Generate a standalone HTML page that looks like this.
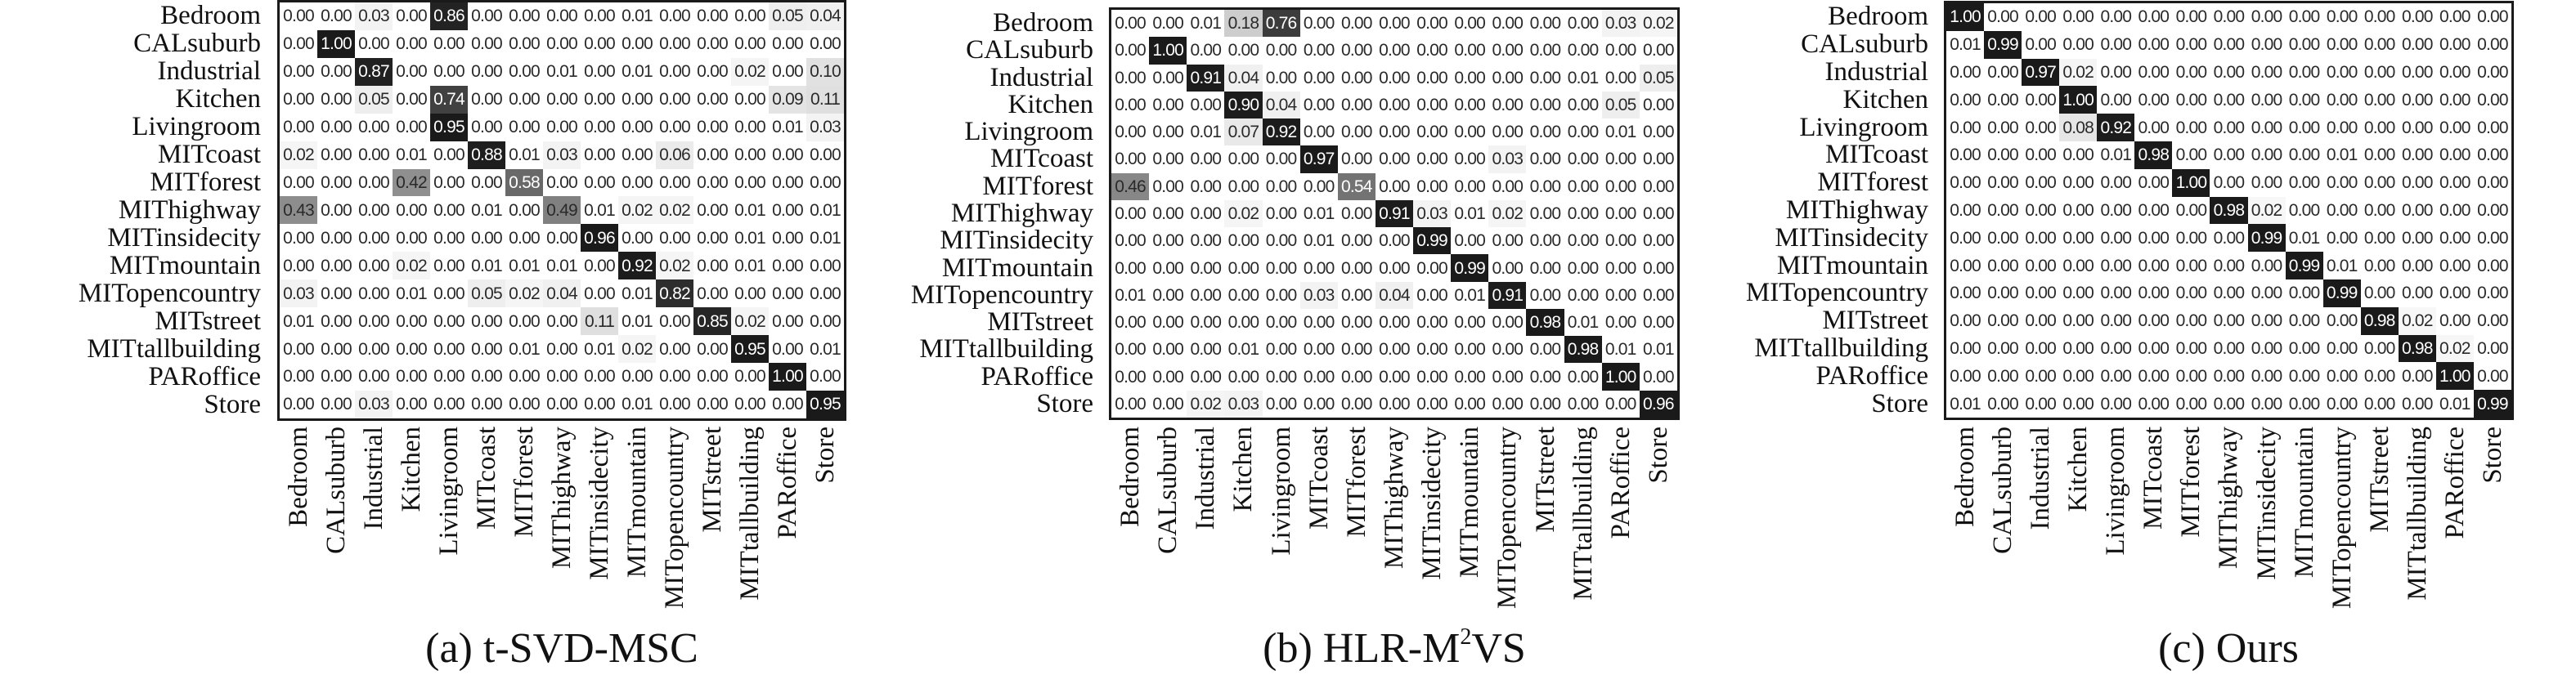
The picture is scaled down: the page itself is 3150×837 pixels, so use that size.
<!DOCTYPE html>
<html><head><meta charset="utf-8">
<style>
html,body{margin:0;padding:0;background:#fff;}
body{width:3150px;height:837px;position:relative;overflow:hidden;}
.m{position:absolute;box-sizing:border-box;border:3px solid #1a1a1a;}
.m table{width:100%;height:100%;border-collapse:collapse;table-layout:fixed;}
.m td{padding:0;text-align:center;vertical-align:middle;font-family:"Liberation Sans",sans-serif;font-size:21px;line-height:1;letter-spacing:-0.8px;color:#2a2a2a;white-space:nowrap;overflow:hidden;}
.m td.w{color:#fff;}
.yl{position:absolute;display:flex;flex-direction:column;font-family:"Liberation Serif",serif;font-size:33px;line-height:1;color:#111;}
.yl div{flex:1 1 0;min-height:0;display:flex;align-items:center;justify-content:flex-end;white-space:nowrap;}
.xl{position:absolute;display:flex;font-family:"Liberation Serif",serif;font-size:33px;color:#111;height:300px;}
.xl div{flex:1;display:flex;justify-content:center;align-items:flex-start;}
.xl span{writing-mode:vertical-rl;transform:rotate(180deg);line-height:34px;white-space:nowrap;}
.cap{position:absolute;top:768px;width:600px;text-align:center;font-family:"Liberation Serif",serif;font-size:52px;line-height:52px;color:#111;}
.cap sup{font-size:28px;line-height:0;position:relative;top:-4px;vertical-align:super;}
</style></head><body>

<!-- ===== (a) ===== -->
<div class="yl" style="left:0;top:3px;width:319px;height:509px;"><div>Bedroom</div><div>CALsuburb</div><div>Industrial</div><div>Kitchen</div><div>Livingroom</div><div>MITcoast</div><div>MITforest</div><div>MIThighway</div><div>MITinsidecity</div><div>MITmountain</div><div>MITopencountry</div><div>MITstreet</div><div>MITtallbuilding</div><div>PARoffice</div><div>Store</div></div>
<div class="m" style="left:339px;top:0;width:696px;height:515px;"><table>
<tr><td>0.00</td><td>0.00</td><td style="background:#f3f3f3">0.03</td><td>0.00</td><td class="w" style="background:#232323">0.86</td><td>0.00</td><td>0.00</td><td>0.00</td><td>0.00</td><td>0.01</td><td>0.00</td><td>0.00</td><td>0.00</td><td style="background:#eeeeee">0.05</td><td style="background:#f0f0f0">0.04</td></tr>
<tr><td>0.00</td><td class="w" style="background:#1a1a1a">1.00</td><td>0.00</td><td>0.00</td><td>0.00</td><td>0.00</td><td>0.00</td><td>0.00</td><td>0.00</td><td>0.00</td><td>0.00</td><td>0.00</td><td>0.00</td><td>0.00</td><td>0.00</td></tr>
<tr><td>0.00</td><td>0.00</td><td class="w" style="background:#212121">0.87</td><td>0.00</td><td>0.00</td><td>0.00</td><td>0.00</td><td>0.01</td><td>0.00</td><td>0.01</td><td>0.00</td><td>0.00</td><td style="background:#f5f5f5">0.02</td><td>0.00</td><td style="background:#e1e1e1">0.10</td></tr>
<tr><td>0.00</td><td>0.00</td><td style="background:#eeeeee">0.05</td><td>0.00</td><td class="w" style="background:#414141">0.74</td><td>0.00</td><td>0.00</td><td>0.00</td><td>0.00</td><td>0.00</td><td>0.00</td><td>0.00</td><td>0.00</td><td style="background:#e4e4e4">0.09</td><td style="background:#dfdfdf">0.11</td></tr>
<tr><td>0.00</td><td>0.00</td><td>0.00</td><td>0.00</td><td class="w" style="background:#1a1a1a">0.95</td><td>0.00</td><td>0.00</td><td>0.00</td><td>0.00</td><td>0.00</td><td>0.00</td><td>0.00</td><td>0.00</td><td>0.01</td><td style="background:#f3f3f3">0.03</td></tr>
<tr><td style="background:#f5f5f5">0.02</td><td>0.00</td><td>0.00</td><td>0.01</td><td>0.00</td><td class="w" style="background:#1e1e1e">0.88</td><td>0.01</td><td style="background:#f3f3f3">0.03</td><td>0.00</td><td>0.00</td><td style="background:#ebebeb">0.06</td><td>0.00</td><td>0.00</td><td>0.00</td><td>0.00</td></tr>
<tr><td>0.00</td><td>0.00</td><td>0.00</td><td style="background:#8f8f8f">0.42</td><td>0.00</td><td>0.00</td><td class="w" style="background:#696969">0.58</td><td>0.00</td><td>0.00</td><td>0.00</td><td>0.00</td><td>0.00</td><td>0.00</td><td>0.00</td><td>0.00</td></tr>
<tr><td style="background:#8d8d8d">0.43</td><td>0.00</td><td>0.00</td><td>0.00</td><td>0.00</td><td>0.01</td><td>0.00</td><td style="background:#808080">0.49</td><td>0.01</td><td style="background:#f5f5f5">0.02</td><td style="background:#f5f5f5">0.02</td><td>0.00</td><td>0.01</td><td>0.00</td><td>0.01</td></tr>
<tr><td>0.00</td><td>0.00</td><td>0.00</td><td>0.00</td><td>0.00</td><td>0.00</td><td>0.00</td><td>0.00</td><td class="w" style="background:#1a1a1a">0.96</td><td>0.00</td><td>0.00</td><td>0.00</td><td>0.01</td><td>0.00</td><td>0.01</td></tr>
<tr><td>0.00</td><td>0.00</td><td>0.00</td><td style="background:#f5f5f5">0.02</td><td>0.00</td><td>0.01</td><td>0.01</td><td>0.01</td><td>0.00</td><td class="w" style="background:#1c1c1c">0.92</td><td style="background:#f5f5f5">0.02</td><td>0.00</td><td>0.01</td><td>0.00</td><td>0.00</td></tr>
<tr><td style="background:#f3f3f3">0.03</td><td>0.00</td><td>0.00</td><td>0.01</td><td>0.00</td><td style="background:#eeeeee">0.05</td><td style="background:#f5f5f5">0.02</td><td style="background:#f0f0f0">0.04</td><td>0.00</td><td>0.01</td><td class="w" style="background:#2d2d2d">0.82</td><td>0.00</td><td>0.00</td><td>0.00</td><td>0.00</td></tr>
<tr><td>0.01</td><td>0.00</td><td>0.00</td><td>0.00</td><td>0.00</td><td>0.00</td><td>0.00</td><td>0.00</td><td style="background:#dfdfdf">0.11</td><td>0.01</td><td>0.00</td><td class="w" style="background:#262626">0.85</td><td style="background:#f5f5f5">0.02</td><td>0.00</td><td>0.00</td></tr>
<tr><td>0.00</td><td>0.00</td><td>0.00</td><td>0.00</td><td>0.00</td><td>0.00</td><td>0.01</td><td>0.00</td><td>0.01</td><td style="background:#f5f5f5">0.02</td><td>0.00</td><td>0.00</td><td class="w" style="background:#1a1a1a">0.95</td><td>0.00</td><td>0.01</td></tr>
<tr><td>0.00</td><td>0.00</td><td>0.00</td><td>0.00</td><td>0.00</td><td>0.00</td><td>0.00</td><td>0.00</td><td>0.00</td><td>0.00</td><td>0.00</td><td>0.00</td><td>0.00</td><td class="w" style="background:#1a1a1a">1.00</td><td>0.00</td></tr>
<tr><td>0.00</td><td>0.00</td><td style="background:#f3f3f3">0.03</td><td>0.00</td><td>0.00</td><td>0.00</td><td>0.00</td><td>0.00</td><td>0.00</td><td>0.01</td><td>0.00</td><td>0.00</td><td>0.00</td><td>0.00</td><td class="w" style="background:#1a1a1a">0.95</td></tr>
</table></div>
<div class="xl" style="left:342px;top:522px;width:690px;"><div><span>Bedroom</span></div><div><span>CALsuburb</span></div><div><span>Industrial</span></div><div><span>Kitchen</span></div><div><span>Livingroom</span></div><div><span>MITcoast</span></div><div><span>MITforest</span></div><div><span>MIThighway</span></div><div><span>MITinsidecity</span></div><div><span>MITmountain</span></div><div><span>MITopencountry</span></div><div><span>MITstreet</span></div><div><span>MITtallbuilding</span></div><div><span>PARoffice</span></div><div><span>Store</span></div></div>
<div class="cap" style="left:387px;">(a) t-SVD-MSC</div>

<!-- ===== (b) ===== -->
<div class="yl" style="left:1030px;top:12px;width:307px;height:499px;"><div>Bedroom</div><div>CALsuburb</div><div>Industrial</div><div>Kitchen</div><div>Livingroom</div><div>MITcoast</div><div>MITforest</div><div>MIThighway</div><div>MITinsidecity</div><div>MITmountain</div><div>MITopencountry</div><div>MITstreet</div><div>MITtallbuilding</div><div>PARoffice</div><div>Store</div></div>
<div class="m" style="left:1356px;top:9px;width:698px;height:505px;"><table>
<tr><td>0.00</td><td>0.00</td><td>0.01</td><td style="background:#cdcdcd">0.18</td><td class="w" style="background:#3c3c3c">0.76</td><td>0.00</td><td>0.00</td><td>0.00</td><td>0.00</td><td>0.00</td><td>0.00</td><td>0.00</td><td>0.00</td><td style="background:#f3f3f3">0.03</td><td style="background:#f5f5f5">0.02</td></tr>
<tr><td>0.00</td><td class="w" style="background:#1a1a1a">1.00</td><td>0.00</td><td>0.00</td><td>0.00</td><td>0.00</td><td>0.00</td><td>0.00</td><td>0.00</td><td>0.00</td><td>0.00</td><td>0.00</td><td>0.00</td><td>0.00</td><td>0.00</td></tr>
<tr><td>0.00</td><td>0.00</td><td class="w" style="background:#1c1c1c">0.91</td><td style="background:#f0f0f0">0.04</td><td>0.00</td><td>0.00</td><td>0.00</td><td>0.00</td><td>0.00</td><td>0.00</td><td>0.00</td><td>0.00</td><td>0.01</td><td>0.00</td><td style="background:#eeeeee">0.05</td></tr>
<tr><td>0.00</td><td>0.00</td><td>0.00</td><td class="w" style="background:#1c1c1c">0.90</td><td style="background:#f0f0f0">0.04</td><td>0.00</td><td>0.00</td><td>0.00</td><td>0.00</td><td>0.00</td><td>0.00</td><td>0.00</td><td>0.00</td><td style="background:#eeeeee">0.05</td><td>0.00</td></tr>
<tr><td>0.00</td><td>0.00</td><td>0.01</td><td style="background:#e9e9e9">0.07</td><td class="w" style="background:#1c1c1c">0.92</td><td>0.00</td><td>0.00</td><td>0.00</td><td>0.00</td><td>0.00</td><td>0.00</td><td>0.00</td><td>0.00</td><td>0.01</td><td>0.00</td></tr>
<tr><td>0.00</td><td>0.00</td><td>0.00</td><td>0.00</td><td>0.00</td><td class="w" style="background:#1a1a1a">0.97</td><td>0.00</td><td>0.00</td><td>0.00</td><td>0.00</td><td style="background:#f3f3f3">0.03</td><td>0.00</td><td>0.00</td><td>0.00</td><td>0.00</td></tr>
<tr><td style="background:#878787">0.46</td><td>0.00</td><td>0.00</td><td>0.00</td><td>0.00</td><td>0.00</td><td class="w" style="background:#737373">0.54</td><td>0.00</td><td>0.00</td><td>0.00</td><td>0.00</td><td>0.00</td><td>0.00</td><td>0.00</td><td>0.00</td></tr>
<tr><td>0.00</td><td>0.00</td><td>0.00</td><td style="background:#f5f5f5">0.02</td><td>0.00</td><td>0.01</td><td>0.00</td><td class="w" style="background:#1c1c1c">0.91</td><td style="background:#f3f3f3">0.03</td><td>0.01</td><td style="background:#f5f5f5">0.02</td><td>0.00</td><td>0.00</td><td>0.00</td><td>0.00</td></tr>
<tr><td>0.00</td><td>0.00</td><td>0.00</td><td>0.00</td><td>0.00</td><td>0.01</td><td>0.00</td><td>0.00</td><td class="w" style="background:#1a1a1a">0.99</td><td>0.00</td><td>0.00</td><td>0.00</td><td>0.00</td><td>0.00</td><td>0.00</td></tr>
<tr><td>0.00</td><td>0.00</td><td>0.00</td><td>0.00</td><td>0.00</td><td>0.00</td><td>0.00</td><td>0.00</td><td>0.00</td><td class="w" style="background:#1a1a1a">0.99</td><td>0.00</td><td>0.00</td><td>0.00</td><td>0.00</td><td>0.00</td></tr>
<tr><td>0.01</td><td>0.00</td><td>0.00</td><td>0.00</td><td>0.00</td><td style="background:#f3f3f3">0.03</td><td>0.00</td><td style="background:#f0f0f0">0.04</td><td>0.00</td><td>0.01</td><td class="w" style="background:#1c1c1c">0.91</td><td>0.00</td><td>0.00</td><td>0.00</td><td>0.00</td></tr>
<tr><td>0.00</td><td>0.00</td><td>0.00</td><td>0.00</td><td>0.00</td><td>0.00</td><td>0.00</td><td>0.00</td><td>0.00</td><td>0.00</td><td>0.00</td><td class="w" style="background:#1a1a1a">0.98</td><td>0.01</td><td>0.00</td><td>0.00</td></tr>
<tr><td>0.00</td><td>0.00</td><td>0.00</td><td>0.01</td><td>0.00</td><td>0.00</td><td>0.00</td><td>0.00</td><td>0.00</td><td>0.00</td><td>0.00</td><td>0.00</td><td class="w" style="background:#1a1a1a">0.98</td><td>0.01</td><td>0.01</td></tr>
<tr><td>0.00</td><td>0.00</td><td>0.00</td><td>0.00</td><td>0.00</td><td>0.00</td><td>0.00</td><td>0.00</td><td>0.00</td><td>0.00</td><td>0.00</td><td>0.00</td><td>0.00</td><td class="w" style="background:#1a1a1a">1.00</td><td>0.00</td></tr>
<tr><td>0.00</td><td>0.00</td><td style="background:#f5f5f5">0.02</td><td style="background:#f3f3f3">0.03</td><td>0.00</td><td>0.00</td><td>0.00</td><td>0.00</td><td>0.00</td><td>0.00</td><td>0.00</td><td>0.00</td><td>0.00</td><td>0.00</td><td class="w" style="background:#1a1a1a">0.96</td></tr>
</table></div>
<div class="xl" style="left:1359px;top:522px;width:692px;"><div><span>Bedroom</span></div><div><span>CALsuburb</span></div><div><span>Industrial</span></div><div><span>Kitchen</span></div><div><span>Livingroom</span></div><div><span>MITcoast</span></div><div><span>MITforest</span></div><div><span>MIThighway</span></div><div><span>MITinsidecity</span></div><div><span>MITmountain</span></div><div><span>MITopencountry</span></div><div><span>MITstreet</span></div><div><span>MITtallbuilding</span></div><div><span>PARoffice</span></div><div><span>Store</span></div></div>
<div class="cap" style="left:1405px;">(b) HLR-M<sup>2</sup>VS</div>

<!-- ===== (c) ===== -->
<div class="yl" style="left:2050px;top:4px;width:308px;height:507px;"><div>Bedroom</div><div>CALsuburb</div><div>Industrial</div><div>Kitchen</div><div>Livingroom</div><div>MITcoast</div><div>MITforest</div><div>MIThighway</div><div>MITinsidecity</div><div>MITmountain</div><div>MITopencountry</div><div>MITstreet</div><div>MITtallbuilding</div><div>PARoffice</div><div>Store</div></div>
<div class="m" style="left:2377px;top:1px;width:697px;height:513px;"><table>
<tr><td class="w" style="background:#1a1a1a">1.00</td><td>0.00</td><td>0.00</td><td>0.00</td><td>0.00</td><td>0.00</td><td>0.00</td><td>0.00</td><td>0.00</td><td>0.00</td><td>0.00</td><td>0.00</td><td>0.00</td><td>0.00</td><td>0.00</td></tr>
<tr><td>0.01</td><td class="w" style="background:#1a1a1a">0.99</td><td>0.00</td><td>0.00</td><td>0.00</td><td>0.00</td><td>0.00</td><td>0.00</td><td>0.00</td><td>0.00</td><td>0.00</td><td>0.00</td><td>0.00</td><td>0.00</td><td>0.00</td></tr>
<tr><td>0.00</td><td>0.00</td><td class="w" style="background:#1a1a1a">0.97</td><td style="background:#f5f5f5">0.02</td><td>0.00</td><td>0.00</td><td>0.00</td><td>0.00</td><td>0.00</td><td>0.00</td><td>0.00</td><td>0.00</td><td>0.00</td><td>0.00</td><td>0.00</td></tr>
<tr><td>0.00</td><td>0.00</td><td>0.00</td><td class="w" style="background:#1a1a1a">1.00</td><td>0.00</td><td>0.00</td><td>0.00</td><td>0.00</td><td>0.00</td><td>0.00</td><td>0.00</td><td>0.00</td><td>0.00</td><td>0.00</td><td>0.00</td></tr>
<tr><td>0.00</td><td>0.00</td><td>0.00</td><td style="background:#e6e6e6">0.08</td><td class="w" style="background:#1c1c1c">0.92</td><td>0.00</td><td>0.00</td><td>0.00</td><td>0.00</td><td>0.00</td><td>0.00</td><td>0.00</td><td>0.00</td><td>0.00</td><td>0.00</td></tr>
<tr><td>0.00</td><td>0.00</td><td>0.00</td><td>0.00</td><td>0.01</td><td class="w" style="background:#1a1a1a">0.98</td><td>0.00</td><td>0.00</td><td>0.00</td><td>0.00</td><td>0.01</td><td>0.00</td><td>0.00</td><td>0.00</td><td>0.00</td></tr>
<tr><td>0.00</td><td>0.00</td><td>0.00</td><td>0.00</td><td>0.00</td><td>0.00</td><td class="w" style="background:#1a1a1a">1.00</td><td>0.00</td><td>0.00</td><td>0.00</td><td>0.00</td><td>0.00</td><td>0.00</td><td>0.00</td><td>0.00</td></tr>
<tr><td>0.00</td><td>0.00</td><td>0.00</td><td>0.00</td><td>0.00</td><td>0.00</td><td>0.00</td><td class="w" style="background:#1a1a1a">0.98</td><td style="background:#f7f7f7">0.02</td><td>0.00</td><td>0.00</td><td>0.00</td><td>0.00</td><td>0.00</td><td>0.00</td></tr>
<tr><td>0.00</td><td>0.00</td><td>0.00</td><td>0.00</td><td>0.00</td><td>0.00</td><td>0.00</td><td>0.00</td><td class="w" style="background:#1a1a1a">0.99</td><td>0.01</td><td>0.00</td><td>0.00</td><td>0.00</td><td>0.00</td><td>0.00</td></tr>
<tr><td>0.00</td><td>0.00</td><td>0.00</td><td>0.00</td><td>0.00</td><td>0.00</td><td>0.00</td><td>0.00</td><td>0.00</td><td class="w" style="background:#1a1a1a">0.99</td><td>0.01</td><td>0.00</td><td>0.00</td><td>0.00</td><td>0.00</td></tr>
<tr><td>0.00</td><td>0.00</td><td>0.00</td><td>0.00</td><td>0.00</td><td>0.00</td><td>0.00</td><td>0.00</td><td>0.00</td><td>0.00</td><td class="w" style="background:#1a1a1a">0.99</td><td>0.00</td><td>0.00</td><td>0.00</td><td>0.00</td></tr>
<tr><td>0.00</td><td>0.00</td><td>0.00</td><td>0.00</td><td>0.00</td><td>0.00</td><td>0.00</td><td>0.00</td><td>0.00</td><td>0.00</td><td>0.00</td><td class="w" style="background:#1a1a1a">0.98</td><td style="background:#f7f7f7">0.02</td><td>0.00</td><td>0.00</td></tr>
<tr><td>0.00</td><td>0.00</td><td>0.00</td><td>0.00</td><td>0.00</td><td>0.00</td><td>0.00</td><td>0.00</td><td>0.00</td><td>0.00</td><td>0.00</td><td>0.00</td><td class="w" style="background:#1a1a1a">0.98</td><td style="background:#f7f7f7">0.02</td><td>0.00</td></tr>
<tr><td>0.00</td><td>0.00</td><td>0.00</td><td>0.00</td><td>0.00</td><td>0.00</td><td>0.00</td><td>0.00</td><td>0.00</td><td>0.00</td><td>0.00</td><td>0.00</td><td>0.00</td><td class="w" style="background:#1a1a1a">1.00</td><td>0.00</td></tr>
<tr><td>0.01</td><td>0.00</td><td>0.00</td><td>0.00</td><td>0.00</td><td>0.00</td><td>0.00</td><td>0.00</td><td>0.00</td><td>0.00</td><td>0.00</td><td>0.00</td><td>0.00</td><td>0.01</td><td class="w" style="background:#1a1a1a">0.99</td></tr>
</table></div>
<div class="xl" style="left:2380px;top:522px;width:691px;"><div><span>Bedroom</span></div><div><span>CALsuburb</span></div><div><span>Industrial</span></div><div><span>Kitchen</span></div><div><span>Livingroom</span></div><div><span>MITcoast</span></div><div><span>MITforest</span></div><div><span>MIThighway</span></div><div><span>MITinsidecity</span></div><div><span>MITmountain</span></div><div><span>MITopencountry</span></div><div><span>MITstreet</span></div><div><span>MITtallbuilding</span></div><div><span>PARoffice</span></div><div><span>Store</span></div></div>
<div class="cap" style="left:2425px;">(c) Ours</div>

</body></html>
